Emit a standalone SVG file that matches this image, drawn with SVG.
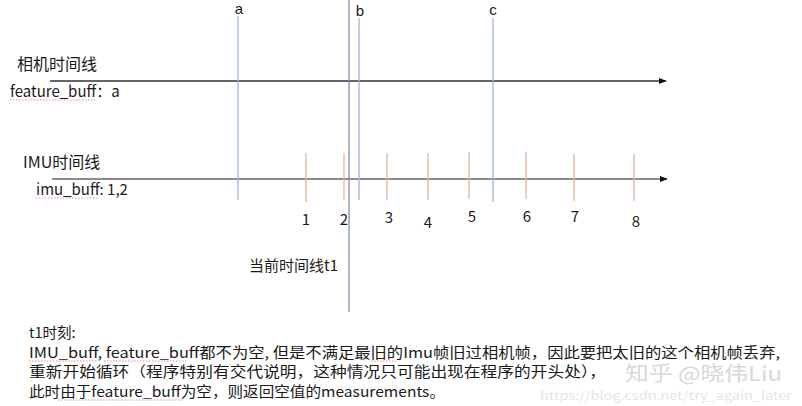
<svg xmlns="http://www.w3.org/2000/svg" width="802" height="406" viewBox="0 0 802 406">
<defs>
<style>
text{font-family:"Noto Sans CJK SC","Liberation Sans",sans-serif;fill:#1a1a1a}
.frame{stroke:#9fb6d3;stroke-width:1.3}
.now{stroke:#7d8fb0;stroke-width:1.3}
.tick{stroke:#e6b597;stroke-width:1.3}
.axis{stroke:#333;stroke-width:1.3;fill:none}
.axis2{stroke:#666;stroke-width:1.3;fill:none}
.lbl{font-size:15px}
.num{font-size:15px;text-anchor:middle}
.top{font-family:"Liberation Sans",sans-serif;font-size:15px;text-anchor:middle}
.body{font-size:14.5px}
.sq{stroke:#e07070;stroke-width:0.8;stroke-dasharray:1.5 1.5;fill:none}
.wm{fill:#d8d8d8}
</style>
<marker id="arr" viewBox="0 0 10 10" refX="9" refY="5" markerWidth="8" markerHeight="8" markerUnits="userSpaceOnUse" orient="auto">
<path d="M0,1 L10,5 L0,9 Z" fill="#111"/>
</marker>
</defs>
<rect width="802" height="406" fill="#fff"/>

<g id="connectors">
<line class="axis" x1="50" y1="81" x2="666" y2="81" marker-end="url(#arr)"/>
<line class="axis2" x1="52" y1="179" x2="667" y2="179" marker-end="url(#arr)"/>
</g>

<g id="frame-a"><line class="frame" x1="238" y1="16" x2="238" y2="200"/><text class="top" x="239" y="14">a</text></g>
<g id="frame-b"><line class="frame" x1="359" y1="18" x2="359" y2="200"/><text class="top" x="360" y="16">b</text></g>
<g id="frame-c"><line class="frame" x1="493" y1="18" x2="493" y2="202"/><text class="top" x="493" y="15">c</text></g>
<g id="now-t1"><line class="now" x1="349" y1="0" x2="349" y2="312"/><text class="lbl" x="249" y="271" font-size="15.5">当前时间线t1</text></g>

<g id="imu-ticks">
<line class="tick" x1="306" y1="153" x2="306" y2="202"/>
<line class="tick" x1="344" y1="153" x2="344" y2="200"/>
<line class="tick" x1="387" y1="153" x2="387" y2="200"/>
<line class="tick" x1="428" y1="153" x2="428" y2="200"/>
<line class="tick" x1="469" y1="152" x2="469" y2="199"/>
<line class="tick" x1="526" y1="152" x2="526" y2="199"/>
<line class="tick" x1="574" y1="154" x2="574" y2="201"/>
<line class="tick" x1="634" y1="154" x2="634" y2="201"/>
<text class="num" x="306" y="225">1</text>
<text class="num" x="344" y="225">2</text>
<text class="num" x="389" y="223">3</text>
<text class="num" x="428" y="228">4</text>
<text class="num" x="472" y="222">5</text>
<text class="num" x="527" y="222">6</text>
<text class="num" x="575" y="222">7</text>
<text class="num" x="636" y="227">8</text>
</g>

<g id="camera-label">
<text x="17" y="70" font-size="16">相机时间线</text>
<text x="10" y="97" font-size="15">feature_buff：a</text>
<path class="sq" d="M10,100 L95,100"/>
</g>
<g id="imu-label">
<text x="23" y="168" font-size="16">IMU时间线</text>
<text x="36" y="195" font-size="15">imu_buff: 1,2</text>
<path class="sq" d="M36,198 L97,198"/>
</g>

<g id="explanation">
<text class="body" x="29" y="338">t1时刻:</text>
<text class="body" x="29" y="358" textLength="751" lengthAdjust="spacingAndGlyphs">IMU_buff, feature_buff都不为空, 但是不满足最旧的Imu帧旧过相机帧，因此要把太旧的这个相机帧丢弃,</text>
<text class="body" x="29" y="377" textLength="577" lengthAdjust="spacingAndGlyphs">重新开始循环（程序特别有交代说明，这种情况只可能出现在程序的开头处），</text>
<text class="body" x="29" y="397" textLength="416" lengthAdjust="spacingAndGlyphs">此时由于feature_buff为空，则返回空值的measurements。</text>
<path class="sq" d="M29,361 L98,361 M104,361 L188,361 M371,361 L396,361 M58,400 L182,400"/>
</g>

<g id="watermark">
<text class="wm" x="625" y="381" font-size="20" textLength="157" lengthAdjust="spacingAndGlyphs">知乎 @晓伟Liu</text>
<text class="wm" x="540" y="400" font-size="12" fill-opacity="0.7" textLength="252" lengthAdjust="spacingAndGlyphs">https://blog.csdn.net/try_again_later</text>
</g>
</svg>
